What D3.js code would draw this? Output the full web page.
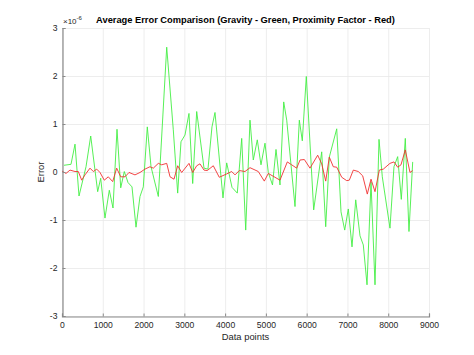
<!DOCTYPE html>
<html><head><meta charset="utf-8">
<script src="https://cdn.jsdelivr.net/npm/d3@7"></script>
<style>html,body{margin:0;padding:0;background:#fff;}svg{display:block;font-family:"Liberation Sans",Arial,Helvetica,sans-serif;}</style>
</head><body>
<svg id="c" width="474" height="355"></svg>
<script>
const titleText = "Average Error Comparison (Gravity - Green, Proximity Factor - Red)";
const xLabel = "Data points";
const yLabel = "Error";
const xTicks = [0,1000,2000,3000,4000,5000,6000,7000,8000,9000];
const yTicks = [-3,-2,-1,0,1,2,3];
const yExponent = -6;

// Gravity (green) series, values in units of 1e-6
const gravityX = [49,221,319,417,589,704,875,949,1054,1160,1251,1349,1440,1528,1619,1717,1815,1913,1994,2092,2183,2362,2568,2729,2837,2918,3016,3114,3205,3303,3482,3580,3678,3752,3948,4039,4169,4299,4407,4505,4610,4691,4789,4880,4978,5059,5162,5248,5346,5437,5511,5714,5820,5893,5991,6172,6369,6467,6555,6737,6842,6933,7021,7112,7203,7308,7389,7480,7578,7676,7774,7855,8043,8141,8232,8321,8419,8509,8600];
const gravityY = [0.14,0.16,0.58,-0.50,0.11,0.75,-0.41,-0.13,-0.96,-0.38,-0.75,0.89,-0.33,0.01,-0.22,-0.31,-1.15,-0.51,-0.31,0.94,0.11,-0.51,2.6,0.88,-0.44,0.63,0.77,1.22,-0.24,1.26,0.08,0.06,0.94,1.24,-0.54,0.19,-0.32,-0.44,0.70,-1.21,1.08,0.25,0.67,0.15,0.60,-0.01,-0.27,0.47,-0.27,1.46,1.08,-0.72,1.08,0.65,1.99,-0.79,0.42,-1.14,0.31,0.90,-0.83,-1.21,-0.77,-1.56,-0.58,-1.33,-1.52,-2.35,-0.21,-2.35,0.68,-0.10,-1.17,0.11,0.32,-0.57,0.70,-1.24,0.21];

// Proximity Factor (red) series, values in units of 1e-6
const proximityX = [0,98,196,319,400,483,564,687,768,851,932,1037,1135,1243,1341,1440,1545,1643,1790,1913,2035,2158,2239,2362,2445,2568,2649,2747,2837,2935,3114,3205,3303,3384,3482,3563,3710,3857,4039,4161,4243,4348,4488,4610,4814,4961,5059,5223,5346,5525,5632,5755,5837,5943,6082,6270,6369,6467,6555,6653,6737,6860,6982,7046,7144,7266,7374,7487,7578,7676,7782,7880,8043,8141,8232,8313,8419,8534,8600];
const proximityY = [0.02,-0.03,0.04,0.01,0.01,-0.17,-0.06,0.08,0.01,0.06,-0.01,-0.17,-0.10,-0.20,0.08,-0.10,-0.10,-0.01,-0.06,-0.01,0.06,0.11,0.08,0.18,0.15,0.18,-0.10,-0.15,0.13,-0.01,0.18,-0.01,0.13,0.17,0.04,0.03,0.13,-0.11,-0.04,0.01,-0.06,0.03,0.01,0.09,0.01,-0.19,-0.03,-0.11,-0.17,0.21,0.15,0.08,0.25,0.26,0.08,0.35,0.17,-0.19,0.31,0.11,0.10,-0.11,-0.18,-0.17,0.04,0.01,-0.08,-0.46,-0.15,-0.41,0.04,0.06,0.18,0.21,0.10,0.15,0.46,-0.01,0.03];

const svg = d3.select("#c");
const m = {left:62, right:429, top:28, bottom:316};
const x = d3.scaleLinear().domain([0,9000]).range([m.left, m.right]);
const y = d3.scaleLinear().domain([-3,3]).range([m.bottom, m.top]);

// grid
const grid = svg.append("g").attr("stroke","#e8e8e8").attr("stroke-width",0.8);
grid.selectAll("line.v").data(xTicks).enter().append("line")
  .attr("x1",d=>x(d)+0.5).attr("x2",d=>x(d)+0.5).attr("y1",m.top).attr("y2",m.bottom);
grid.selectAll("line.h").data(yTicks).enter().append("line")
  .attr("y1",d=>Math.round(y(d))+0.5).attr("y2",d=>Math.round(y(d))+0.5).attr("x1",m.left).attr("x2",m.right);

// data lines
const gData = gravityX.map((d,i)=>[d,gravityY[i]]);
const pData = proximityX.map((d,i)=>[d,proximityY[i]]);
const line = d3.line().x(d=>x(d[0])).y(d=>y(d[1]));
svg.append("path").datum(gData).attr("d",line).attr("fill","none")
  .attr("stroke","#44ee44").attr("stroke-width",0.9).attr("stroke-linejoin","round");
svg.append("path").datum(pData).attr("d",line).attr("fill","none")
  .attr("stroke","#f03030").attr("stroke-width",0.9).attr("stroke-linejoin","round");

// axes
const axisColor = "#8a8a8a";
const xAxis = d3.axisBottom(x).tickValues(xTicks).tickSize(-3).tickPadding(5).tickFormat(d3.format("d"));
const gx = svg.append("g").attr("transform",`translate(0,${m.bottom+0.5})`).call(xAxis);
const yAxis = d3.axisLeft(y).tickValues(yTicks).tickSize(-3).tickPadding(5).tickFormat(d3.format("d"));
const gy = svg.append("g").attr("transform",`translate(${m.left+0.5},0)`).call(yAxis);
[gx,gy].forEach(g=>{
  g.select(".domain").attr("stroke",axisColor).attr("stroke-width",1.2);
  g.selectAll(".tick line").attr("stroke",axisColor);
  g.selectAll(".tick text").attr("fill","#262626").attr("font-size","8.6px").attr("font-family","'Liberation Sans',Arial,sans-serif");
});
gy.selectAll(".tick text").text(d=>d<0?"-"+Math.abs(d):d);

// exponent
const ex = svg.append("text").attr("x",m.left+1).attr("y",24).attr("fill","#262626").attr("font-size","8px");
ex.append("tspan").text("\u00d710");
ex.append("tspan").attr("dy",-4).attr("font-size","6px").text(yExponent);

// title
svg.append("text").attr("x",(m.left+m.right)/2).attr("y",23).attr("text-anchor","middle")
  .attr("font-weight","bold").attr("font-size","9.3px").attr("fill","#000").text(titleText);
// labels
svg.append("text").attr("x",(m.left+m.right)/2).attr("y",340).attr("text-anchor","middle")
  .attr("font-size","9.4px").attr("fill","#262626").text(xLabel);
svg.append("text").attr("transform",`translate(44,${(m.top+m.bottom)/2}) rotate(-90)`).attr("text-anchor","middle")
  .attr("font-size","9.4px").attr("fill","#262626").text(yLabel);
</script>
</body></html>
